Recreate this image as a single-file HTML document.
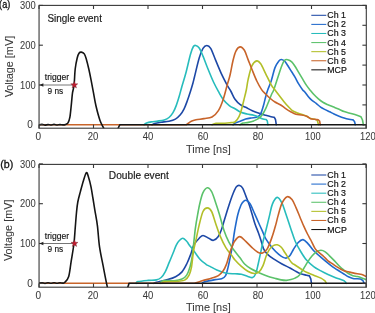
<!DOCTYPE html>
<html><head><meta charset="utf-8"><style>
html,body{margin:0;padding:0;background:#fff;}
body{width:375px;height:313px;overflow:hidden;}
svg{display:block;filter:blur(0.25px);}
text{font-family:"Liberation Sans",sans-serif;}
.tk{font-size:10.2px;fill:#3a3a3a;stroke:#3a3a3a;stroke-width:0.05px;}
.al{font-size:10.8px;fill:#3a3a3a;stroke:#3a3a3a;stroke-width:0.05px;}
.pl{font-size:11px;fill:#111;stroke:#111;stroke-width:0.3px;}
.ti{font-size:10.4px;fill:#1a1a1a;stroke:#1a1a1a;stroke-width:0.18px;}
.lg{font-size:8.8px;fill:#111;stroke:#111;stroke-width:0.18px;}
.tr{font-size:8.8px;fill:#111;stroke:#111;stroke-width:0.15px;}
</style></head><body>
<svg width="375" height="313" viewBox="0 0 375 313">
<rect width="375" height="313" fill="#fff"/>
<clipPath id="ca"><rect x="39" y="5.40" width="327" height="122.80"/></clipPath>
<g clip-path="url(#ca)" fill="none" stroke-width="1.60" stroke-linejoin="round" stroke-linecap="round">
<path stroke="#1d48a6" d="M152.00,124.80 C152.43,124.58 153.10,123.92 154.60,123.50 C156.10,123.08 158.60,122.68 161.00,122.30 C163.40,121.92 166.60,121.73 169.00,121.20 C171.40,120.67 173.55,120.12 175.40,119.10 C177.25,118.08 178.65,116.82 180.10,115.10 C181.55,113.38 182.90,111.18 184.10,108.80 C185.30,106.42 186.23,103.73 187.30,100.80 C188.37,97.87 189.57,94.13 190.50,91.20 C191.43,88.27 192.25,85.53 192.90,83.20 C193.55,80.87 193.35,81.40 194.40,77.20 C195.45,73.00 197.77,62.80 199.20,58.00 C200.63,53.20 201.73,50.48 203.00,48.40 C204.27,46.32 205.52,45.50 206.80,45.50 C208.08,45.50 209.25,46.00 210.70,48.40 C212.15,50.80 213.75,55.75 215.50,59.90 C217.25,64.05 219.28,69.15 221.20,73.30 C223.12,77.45 225.37,81.77 227.00,84.80 C228.63,87.83 229.67,89.08 231.00,91.50 C232.33,93.92 233.45,97.10 235.00,99.30 C236.55,101.50 238.52,103.37 240.30,104.70 C242.08,106.03 243.70,106.30 245.70,107.30 C247.70,108.30 250.08,109.70 252.30,110.70 C254.52,111.70 256.77,112.53 259.00,113.30 C261.23,114.07 263.70,114.73 265.70,115.30 C267.70,115.87 269.57,116.37 271.00,116.70 C272.43,117.03 273.75,117.20 274.30,117.30 L274.30,117.30 L275.50,119.50 L276.30,124.80"/>
<path stroke="#2069cc" d="M233.00,124.80 C233.45,124.45 234.48,123.28 235.70,122.70 C236.92,122.12 238.63,121.90 240.30,121.30 C241.97,120.70 243.92,119.65 245.70,119.10 C247.48,118.55 249.23,118.30 251.00,118.00 C252.77,117.70 254.85,117.75 256.30,117.30 C257.75,116.85 258.80,116.30 259.70,115.30 C260.60,114.30 261.03,113.07 261.70,111.30 C262.37,109.53 263.03,107.13 263.70,104.70 C264.37,102.27 265.03,99.15 265.70,96.70 C266.37,94.25 266.78,92.62 267.70,90.00 C268.62,87.38 269.98,84.73 271.20,81.00 C272.42,77.27 273.72,70.95 275.00,67.60 C276.28,64.25 277.83,62.25 278.90,60.90 C279.97,59.55 280.38,59.40 281.40,59.50 C282.42,59.60 283.77,60.20 285.00,61.50 C286.23,62.80 287.67,65.55 288.80,67.30 C289.93,69.05 290.77,70.37 291.80,72.00 C292.83,73.63 293.83,75.07 295.00,77.10 C296.17,79.13 297.52,82.07 298.80,84.20 C300.08,86.33 301.67,88.57 302.70,89.90 C303.73,91.23 304.05,91.07 305.00,92.20 C305.95,93.33 307.28,95.38 308.40,96.70 C309.52,98.02 310.40,98.98 311.70,100.10 C313.00,101.22 314.72,102.23 316.20,103.40 C317.68,104.57 319.12,106.07 320.60,107.10 C322.08,108.13 323.60,108.82 325.10,109.60 C326.60,110.38 328.12,111.07 329.60,111.80 C331.08,112.53 332.52,113.32 334.00,114.00 C335.48,114.68 336.82,115.25 338.50,115.90 C340.18,116.55 342.35,117.35 344.10,117.90 C345.85,118.45 347.52,118.87 349.00,119.20 C350.48,119.53 352.33,119.78 353.00,119.90 L353.00,119.90 L354.50,121.50 L355.30,124.80"/>
<path stroke="#27bcbc" d="M144.00,124.80 C144.43,124.52 145.37,123.58 146.60,123.10 C147.83,122.62 149.53,122.23 151.40,121.90 C153.27,121.57 155.67,121.43 157.80,121.10 C159.93,120.77 162.33,120.50 164.20,119.90 C166.07,119.30 167.53,118.70 169.00,117.50 C170.47,116.30 171.80,114.68 173.00,112.70 C174.20,110.72 175.15,108.38 176.20,105.60 C177.25,102.82 178.38,99.07 179.30,96.00 C180.22,92.93 180.62,90.98 181.70,87.20 C182.78,83.42 184.33,78.80 185.80,73.30 C187.27,67.80 189.23,58.67 190.50,54.20 C191.77,49.73 192.53,47.95 193.40,46.50 C194.27,45.05 194.73,45.25 195.70,45.50 C196.67,45.75 197.98,46.23 199.20,48.00 C200.42,49.77 201.57,52.68 203.00,56.10 C204.43,59.52 206.05,64.18 207.80,68.50 C209.55,72.82 211.73,78.18 213.50,82.00 C215.27,85.82 216.78,88.50 218.40,91.40 C220.02,94.30 221.33,97.00 223.20,99.40 C225.07,101.80 227.63,104.25 229.60,105.80 C231.57,107.35 233.22,107.67 235.00,108.70 C236.78,109.73 238.30,111.12 240.30,112.00 C242.30,112.88 244.77,113.45 247.00,114.00 C249.23,114.55 251.70,114.75 253.70,115.30 C255.70,115.85 257.45,116.67 259.00,117.30 C260.55,117.93 261.78,118.72 263.00,119.10 C264.22,119.48 265.75,119.52 266.30,119.60 L266.30,119.60 L267.30,121.00 L267.90,124.80"/>
<path stroke="#5bc26a" d="M240.00,124.80 C240.50,124.52 241.62,123.50 243.00,123.10 C244.38,122.70 246.52,122.77 248.30,122.40 C250.08,122.03 252.03,121.52 253.70,120.90 C255.37,120.28 256.87,119.73 258.30,118.70 C259.73,117.67 261.07,116.37 262.30,114.70 C263.53,113.03 264.58,111.03 265.70,108.70 C266.82,106.37 268.00,103.15 269.00,100.70 C270.00,98.25 270.92,95.78 271.70,94.00 C272.48,92.22 272.67,92.80 273.70,90.00 C274.73,87.20 276.55,81.25 277.90,77.20 C279.25,73.15 280.68,68.52 281.80,65.70 C282.92,62.88 283.60,61.30 284.60,60.30 C285.60,59.30 286.62,59.45 287.80,59.70 C288.98,59.95 290.50,60.70 291.70,61.80 C292.90,62.90 293.82,64.48 295.00,66.30 C296.18,68.12 297.52,70.57 298.80,72.70 C300.08,74.83 301.42,76.98 302.70,79.10 C303.98,81.22 305.20,83.50 306.50,85.40 C307.80,87.30 309.27,88.98 310.50,90.50 C311.73,92.02 312.58,93.10 313.90,94.50 C315.22,95.90 316.90,97.60 318.40,98.90 C319.90,100.20 321.42,101.37 322.90,102.30 C324.38,103.23 325.63,103.75 327.30,104.50 C328.97,105.25 331.03,106.05 332.90,106.80 C334.77,107.55 336.63,108.20 338.50,109.00 C340.37,109.80 342.35,110.93 344.10,111.60 C345.85,112.27 347.52,112.62 349.00,113.00 C350.48,113.38 351.67,113.53 353.00,113.90 C354.33,114.27 355.67,114.72 357.00,115.20 C358.33,115.68 360.33,116.53 361.00,116.80 L361.00,116.80 L362.50,120.00 L363.40,124.80"/>
<path stroke="#b2bf28" d="M212.00,124.80 C212.67,124.57 213.83,123.67 216.00,123.40 C218.17,123.13 222.50,123.33 225.00,123.20 C227.50,123.07 229.33,122.80 231.00,122.60 C232.67,122.40 233.67,122.98 235.00,122.00 C236.33,121.02 237.88,118.92 239.00,116.70 C240.12,114.48 240.92,111.37 241.70,108.70 C242.48,106.03 242.93,103.82 243.70,100.70 C244.47,97.58 245.55,93.60 246.30,90.00 C247.05,86.40 247.25,83.15 248.20,79.10 C249.15,75.05 250.57,68.73 252.00,65.70 C253.43,62.67 255.35,61.22 256.80,60.90 C258.25,60.58 259.25,61.73 260.70,63.80 C262.15,65.87 263.75,69.80 265.50,73.30 C267.25,76.80 269.62,82.02 271.20,84.80 C272.78,87.58 273.70,88.25 275.00,90.00 C276.30,91.75 277.50,93.35 279.00,95.30 C280.50,97.25 282.50,99.87 284.00,101.70 C285.50,103.53 286.67,104.87 288.00,106.30 C289.33,107.73 290.45,109.18 292.00,110.30 C293.55,111.42 295.75,112.33 297.30,113.00 C298.85,113.67 299.73,113.75 301.30,114.30 C302.87,114.85 305.13,115.60 306.70,116.30 C308.27,117.00 309.37,118.00 310.70,118.50 C312.03,119.00 313.60,119.00 314.70,119.30 C315.80,119.60 316.87,120.13 317.30,120.30 L317.30,120.30 L318.50,124.80"/>
<path stroke="#c8642a" d="M39.00,124.80 L186.40,124.80 L186.40,124.80 C186.68,124.58 187.28,124.10 188.10,123.50 C188.92,122.90 189.98,121.82 191.30,121.20 C192.62,120.58 193.88,120.23 196.00,119.80 C198.12,119.37 201.33,119.07 204.00,118.60 C206.67,118.13 209.60,118.33 212.00,117.00 C214.40,115.67 216.53,113.53 218.40,110.60 C220.27,107.67 221.73,103.67 223.20,99.40 C224.67,95.13 226.07,89.02 227.20,85.00 C228.33,80.98 229.05,79.30 230.00,75.30 C230.95,71.30 231.93,65.00 232.90,61.00 C233.87,57.00 234.62,53.65 235.80,51.30 C236.98,48.95 238.57,47.07 240.00,46.90 C241.43,46.73 243.03,48.13 244.40,50.30 C245.77,52.47 246.93,56.70 248.20,59.90 C249.47,63.10 250.57,65.98 252.00,69.50 C253.43,73.02 255.20,77.65 256.80,81.00 C258.40,84.35 260.12,87.43 261.60,89.60 C263.08,91.77 264.35,92.60 265.70,94.00 C267.05,95.40 268.15,96.67 269.70,98.00 C271.25,99.33 273.23,100.88 275.00,102.00 C276.77,103.12 278.58,103.65 280.30,104.70 C282.02,105.75 283.57,107.13 285.30,108.30 C287.03,109.47 288.92,110.70 290.70,111.70 C292.48,112.70 294.23,113.75 296.00,114.30 C297.77,114.85 299.52,114.67 301.30,115.00 C303.08,115.33 305.13,115.68 306.70,116.30 C308.27,116.92 309.37,118.20 310.70,118.70 C312.03,119.20 313.48,119.13 314.70,119.30 C315.92,119.47 317.45,119.63 318.00,119.70 L318.00,119.70 L319.60,121.00 L320.30,124.80"/>
<path stroke="#151515" d="M39.00,124.90 C39.50,124.82 41.00,124.37 42.00,124.40 C43.00,124.43 44.00,125.07 45.00,125.10 C46.00,125.13 47.00,124.62 48.00,124.60 C49.00,124.58 50.00,125.03 51.00,125.00 C52.00,124.97 53.00,124.40 54.00,124.40 C55.00,124.40 56.00,124.97 57.00,125.00 C58.00,125.03 59.00,124.62 60.00,124.60 C61.00,124.58 62.07,124.93 63.00,124.90 C63.93,124.87 64.77,124.75 65.60,124.40 C66.43,124.05 67.28,124.00 68.00,122.80 C68.72,121.60 69.32,120.53 69.90,117.20 C70.48,113.87 71.07,106.85 71.50,102.80 C71.93,98.75 72.07,95.88 72.50,92.90 C72.93,89.92 73.65,88.88 74.10,84.90 C74.55,80.92 74.68,73.48 75.20,69.00 C75.72,64.52 76.57,60.63 77.20,58.00 C77.83,55.37 78.32,54.18 79.00,53.20 C79.68,52.22 80.42,51.98 81.30,52.10 C82.18,52.22 83.45,52.68 84.30,53.90 C85.15,55.12 85.65,56.88 86.40,59.40 C87.15,61.92 88.02,65.55 88.80,69.00 C89.58,72.45 90.32,76.12 91.10,80.10 C91.88,84.08 92.68,88.58 93.50,92.90 C94.32,97.22 94.92,101.42 96.00,106.00 C97.08,110.58 98.67,116.60 100.00,120.40 C101.33,124.20 102.83,126.20 104.00,128.80 C105.17,131.40 105.67,134.13 107.00,136.00 C108.33,137.87 110.45,140.17 112.00,140.00 C113.55,139.83 115.25,137.00 116.30,135.00 C117.35,133.00 117.72,129.70 118.30,128.00 C118.88,126.30 119.55,125.33 119.80,124.80 L119.80,124.80 L366.00,124.80"/>
</g>
<clipPath id="cb"><rect x="39" y="164.40" width="327" height="122.80"/></clipPath>
<g clip-path="url(#cb)" fill="none" stroke-width="1.60" stroke-linejoin="round" stroke-linecap="round">
<path stroke="#1d48a6" d="M154.00,283.30 C154.40,283.13 154.13,282.92 156.40,282.30 C158.67,281.68 164.40,280.53 167.60,279.60 C170.80,278.67 173.20,277.98 175.60,276.70 C178.00,275.42 180.15,274.02 182.00,271.90 C183.85,269.78 185.25,266.92 186.70,264.00 C188.15,261.08 189.50,257.60 190.70,254.40 C191.90,251.20 192.48,247.48 193.90,244.80 C195.32,242.12 197.68,239.85 199.20,238.30 C200.72,236.75 201.40,235.50 203.00,235.50 C204.60,235.50 207.05,237.50 208.80,238.30 C210.55,239.10 211.92,240.62 213.50,240.30 C215.08,239.98 216.97,238.20 218.30,236.40 C219.63,234.60 220.35,232.70 221.50,229.50 C222.65,226.30 223.92,221.38 225.20,217.20 C226.48,213.02 227.87,208.40 229.20,204.40 C230.53,200.40 232.00,196.13 233.20,193.20 C234.40,190.27 235.33,188.08 236.40,186.80 C237.47,185.52 238.53,185.23 239.60,185.50 C240.67,185.77 241.73,186.58 242.80,188.40 C243.87,190.22 244.92,193.63 246.00,196.40 C247.08,199.17 248.27,201.97 249.30,205.00 C250.33,208.03 251.23,211.40 252.20,214.60 C253.17,217.80 254.07,221.17 255.10,224.20 C256.13,227.23 257.42,230.08 258.40,232.80 C259.38,235.52 260.13,237.83 261.00,240.50 C261.87,243.17 262.50,246.48 263.60,248.80 C264.70,251.12 265.87,252.67 267.60,254.40 C269.33,256.13 271.60,257.60 274.00,259.20 C276.40,260.80 279.33,262.53 282.00,264.00 C284.67,265.47 287.83,266.85 290.00,268.00 C292.17,269.15 293.22,269.93 295.00,270.90 C296.78,271.87 298.78,273.08 300.70,273.80 C302.62,274.52 305.05,274.85 306.50,275.20 C307.95,275.55 308.92,275.78 309.40,275.90 L309.40,275.90 L310.80,278.80 L311.50,283.30"/>
<path stroke="#2069cc" d="M202.00,283.30 C202.33,283.08 201.80,282.62 204.00,282.00 C206.20,281.38 212.27,280.13 215.20,279.60 C218.13,279.07 219.87,279.47 221.60,278.80 C223.33,278.13 224.53,277.47 225.60,275.60 C226.67,273.73 227.20,270.80 228.00,267.60 C228.80,264.40 229.65,260.17 230.40,256.40 C231.15,252.63 231.80,249.23 232.50,245.00 C233.20,240.77 233.73,236.00 234.60,231.00 C235.47,226.00 236.63,219.33 237.70,215.00 C238.77,210.67 240.02,207.28 241.00,205.00 C241.98,202.72 242.68,202.07 243.60,201.30 C244.52,200.53 245.43,200.02 246.50,200.40 C247.57,200.78 248.65,201.40 250.00,203.60 C251.35,205.80 253.20,210.48 254.60,213.60 C256.00,216.72 257.12,219.42 258.40,222.30 C259.68,225.18 261.03,228.08 262.30,230.90 C263.57,233.72 264.32,236.35 266.00,239.20 C267.68,242.05 270.27,245.47 272.40,248.00 C274.53,250.53 277.00,252.83 278.80,254.40 C280.60,255.97 281.92,256.80 283.20,257.40 C284.48,258.00 285.37,258.32 286.50,258.00 C287.63,257.68 288.85,256.92 290.00,255.50 C291.15,254.08 292.03,251.67 293.40,249.50 C294.77,247.33 296.60,244.15 298.20,242.50 C299.80,240.85 301.38,239.42 303.00,239.60 C304.62,239.78 306.12,241.73 307.90,243.60 C309.68,245.47 311.78,248.77 313.70,250.80 C315.62,252.83 317.48,254.13 319.40,255.80 C321.32,257.47 323.03,259.00 325.20,260.80 C327.37,262.60 330.77,265.33 332.40,266.60 C334.03,267.87 333.82,267.63 335.00,268.40 C336.18,269.17 338.02,270.27 339.50,271.20 C340.98,272.13 342.42,273.07 343.90,274.00 C345.38,274.93 346.90,276.05 348.40,276.80 C349.90,277.55 351.40,278.18 352.90,278.50 C354.40,278.82 356.10,278.62 357.40,278.70 C358.70,278.78 360.15,278.95 360.70,279.00 L360.70,279.00 L363.00,280.70 L364.10,283.30"/>
<path stroke="#27bcbc" d="M136.00,283.30 C136.30,283.02 135.82,282.08 137.80,281.60 C139.78,281.12 144.80,280.68 147.90,280.40 C151.00,280.12 154.18,280.38 156.40,279.90 C158.62,279.42 159.73,278.83 161.20,277.50 C162.67,276.17 163.87,274.42 165.20,271.90 C166.53,269.38 167.87,265.58 169.20,262.40 C170.53,259.22 172.00,255.73 173.20,252.80 C174.40,249.87 175.33,246.88 176.40,244.80 C177.47,242.72 178.52,241.38 179.60,240.30 C180.68,239.22 181.72,238.15 182.90,238.30 C184.08,238.45 185.73,240.22 186.70,241.20 C187.67,242.18 187.40,242.43 188.70,244.20 C190.00,245.97 192.58,249.25 194.50,251.80 C196.42,254.35 198.28,257.42 200.20,259.50 C202.12,261.58 204.37,263.15 206.00,264.30 C207.63,265.45 208.20,265.45 210.00,266.40 C211.80,267.35 214.07,268.87 216.80,270.00 C219.53,271.13 223.37,272.57 226.40,273.20 C229.43,273.83 232.50,273.62 235.00,273.80 C237.50,273.98 239.27,273.87 241.40,274.30 C243.53,274.73 245.93,275.87 247.80,276.40 C249.67,276.93 251.27,277.98 252.60,277.50 C253.93,277.02 254.87,275.75 255.80,273.50 C256.73,271.25 257.40,267.45 258.20,264.00 C259.00,260.55 259.80,256.53 260.60,252.80 C261.40,249.07 262.10,245.40 263.00,241.60 C263.90,237.80 264.92,234.33 266.00,230.00 C267.08,225.67 268.43,219.92 269.50,215.60 C270.57,211.28 271.12,207.13 272.40,204.10 C273.68,201.07 275.60,197.57 277.20,197.40 C278.80,197.23 280.57,200.38 282.00,203.10 C283.43,205.82 284.27,209.23 285.80,213.70 C287.33,218.17 289.62,225.27 291.20,229.90 C292.78,234.53 293.72,237.90 295.30,241.50 C296.88,245.10 298.83,248.40 300.70,251.50 C302.57,254.60 304.33,257.58 306.50,260.10 C308.67,262.62 311.30,264.80 313.70,266.60 C316.10,268.40 318.52,269.58 320.90,270.90 C323.28,272.22 325.65,273.42 328.00,274.50 C330.35,275.58 333.08,276.65 335.00,277.40 C336.92,278.15 338.02,278.45 339.50,279.00 C340.98,279.55 343.17,280.42 343.90,280.70 L343.90,280.70 L345.50,282.00 L346.20,283.30"/>
<path stroke="#5bc26a" d="M160.00,283.30 C160.47,282.87 160.47,281.13 162.80,280.70 C165.13,280.27 170.80,280.97 174.00,280.70 C177.20,280.43 179.88,280.03 182.00,279.10 C184.12,278.17 185.38,277.08 186.70,275.10 C188.02,273.12 188.97,270.38 189.90,267.20 C190.83,264.02 191.40,262.40 192.30,256.00 C193.20,249.60 194.32,236.22 195.30,228.80 C196.28,221.38 197.40,215.93 198.20,211.50 C199.00,207.07 199.30,205.35 200.10,202.20 C200.90,199.05 201.78,195.00 203.00,192.60 C204.22,190.20 205.97,187.97 207.40,187.80 C208.83,187.63 210.25,189.20 211.60,191.60 C212.95,194.00 214.22,198.47 215.50,202.20 C216.78,205.93 217.87,209.25 219.30,214.00 C220.73,218.75 222.50,226.00 224.10,230.70 C225.70,235.40 227.30,239.02 228.90,242.20 C230.50,245.38 231.88,247.23 233.70,249.80 C235.52,252.37 237.98,255.23 239.80,257.60 C241.62,259.97 242.73,262.13 244.60,264.00 C246.47,265.87 248.60,267.35 251.00,268.80 C253.40,270.25 256.33,271.52 259.00,272.70 C261.67,273.88 264.35,274.97 267.00,275.90 C269.65,276.83 272.57,277.63 274.90,278.30 C277.23,278.97 279.07,279.55 281.00,279.90 C282.93,280.25 284.83,280.45 286.50,280.40 C288.17,280.35 289.58,279.98 291.00,279.60 C292.42,279.22 293.62,278.83 295.00,278.10 C296.38,277.37 297.87,276.77 299.30,275.20 C300.73,273.63 302.17,270.97 303.60,268.70 C305.03,266.43 306.47,263.75 307.90,261.60 C309.33,259.45 310.75,257.43 312.20,255.80 C313.65,254.17 315.15,252.72 316.60,251.80 C318.05,250.88 319.47,250.30 320.90,250.30 C322.33,250.30 323.77,250.88 325.20,251.80 C326.63,252.72 328.07,254.42 329.50,255.80 C330.93,257.18 332.13,258.37 333.80,260.10 C335.47,261.83 337.82,264.53 339.50,266.20 C341.18,267.87 342.42,268.88 343.90,270.10 C345.38,271.32 346.90,272.57 348.40,273.50 C349.90,274.43 351.40,275.20 352.90,275.70 C354.40,276.20 355.92,276.13 357.40,276.50 C358.88,276.87 360.37,277.37 361.80,277.90 C363.23,278.43 365.30,279.40 366.00,279.70"/>
<path stroke="#b2bf28" d="M162.00,283.30 C162.40,283.07 161.60,282.25 164.40,281.90 C167.20,281.55 175.35,281.53 178.80,281.20 C182.25,280.87 183.38,280.92 185.10,279.90 C186.82,278.88 188.03,277.22 189.10,275.10 C190.17,272.98 190.78,271.08 191.50,267.20 C192.22,263.32 192.60,256.62 193.40,251.80 C194.20,246.98 195.33,242.78 196.30,238.30 C197.27,233.82 198.08,229.37 199.20,224.90 C200.32,220.43 201.63,214.33 203.00,211.50 C204.37,208.67 205.97,207.90 207.40,207.90 C208.83,207.90 210.25,208.98 211.60,211.50 C212.95,214.02 214.05,218.85 215.50,223.00 C216.95,227.15 218.55,232.25 220.30,236.40 C222.05,240.55 224.08,244.70 226.00,247.90 C227.92,251.10 230.30,253.58 231.80,255.60 C233.30,257.62 233.40,258.20 235.00,260.00 C236.60,261.80 239.27,264.53 241.40,266.40 C243.53,268.27 245.67,270.02 247.80,271.20 C249.93,272.38 252.33,273.37 254.20,273.50 C256.07,273.63 257.53,273.32 259.00,272.00 C260.47,270.68 261.80,268.27 263.00,265.60 C264.20,262.93 265.15,258.67 266.20,256.00 C267.25,253.33 268.12,251.33 269.30,249.60 C270.48,247.87 271.97,246.40 273.30,245.60 C274.63,244.80 275.97,244.53 277.30,244.80 C278.63,245.07 280.02,245.87 281.30,247.20 C282.58,248.53 283.30,250.23 285.00,252.80 C286.70,255.37 289.83,260.57 291.50,262.60 C293.17,264.63 293.47,263.98 295.00,265.00 C296.53,266.02 298.78,267.48 300.70,268.70 C302.62,269.92 304.33,271.22 306.50,272.30 C308.67,273.38 311.30,274.23 313.70,275.20 C316.10,276.17 319.02,277.17 320.90,278.10 C322.78,279.03 324.32,280.35 325.00,280.80 L325.00,280.80 L326.50,283.30"/>
<path stroke="#c8642a" d="M39.00,283.30 L194.50,283.30 L194.50,283.30 C195.08,283.12 196.58,282.65 198.00,282.20 C199.42,281.75 200.67,281.30 203.00,280.60 C205.33,279.90 209.43,278.83 212.00,278.00 C214.57,277.17 216.53,276.80 218.40,275.60 C220.27,274.40 221.87,272.67 223.20,270.80 C224.53,268.93 225.47,266.80 226.40,264.40 C227.33,262.00 228.07,258.83 228.80,256.40 C229.53,253.97 229.83,252.33 230.80,249.80 C231.77,247.27 233.10,243.40 234.60,241.20 C236.10,239.00 237.93,236.57 239.80,236.60 C241.67,236.63 243.80,239.60 245.80,241.40 C247.80,243.20 249.80,245.60 251.80,247.40 C253.80,249.20 256.00,251.28 257.80,252.20 C259.60,253.12 261.00,253.50 262.60,252.90 C264.20,252.30 265.80,251.32 267.40,248.60 C269.00,245.88 270.80,240.60 272.20,236.60 C273.60,232.60 274.82,228.10 275.80,224.60 C276.78,221.10 277.07,219.18 278.10,215.60 C279.13,212.02 280.48,206.25 282.00,203.10 C283.52,199.95 285.53,197.28 287.20,196.70 C288.87,196.12 290.53,197.78 292.00,199.60 C293.47,201.42 294.67,204.67 296.00,207.60 C297.33,210.53 298.67,214.02 300.00,217.20 C301.33,220.38 302.75,223.90 304.00,226.70 C305.25,229.50 306.37,231.78 307.50,234.00 C308.63,236.22 309.53,237.57 310.80,240.00 C312.07,242.43 313.67,246.45 315.10,248.60 C316.53,250.75 317.97,251.58 319.40,252.90 C320.83,254.22 322.27,255.18 323.70,256.50 C325.13,257.82 326.55,259.60 328.00,260.80 C329.45,262.00 331.23,262.90 332.40,263.70 C333.57,264.50 333.82,264.82 335.00,265.60 C336.18,266.38 338.02,267.55 339.50,268.40 C340.98,269.25 342.42,270.13 343.90,270.70 C345.38,271.27 346.90,271.43 348.40,271.80 C349.90,272.17 351.40,272.57 352.90,272.90 C354.40,273.23 355.92,273.52 357.40,273.80 C358.88,274.08 360.37,274.18 361.80,274.60 C363.23,275.02 365.30,276.02 366.00,276.30"/>
<path stroke="#151515" d="M39.00,283.20 C39.50,283.12 41.00,282.67 42.00,282.70 C43.00,282.73 44.00,283.38 45.00,283.40 C46.00,283.42 47.00,282.82 48.00,282.80 C49.00,282.78 50.00,283.32 51.00,283.30 C52.00,283.28 53.00,282.72 54.00,282.70 C55.00,282.68 56.00,283.18 57.00,283.20 C58.00,283.22 59.00,282.82 60.00,282.80 C61.00,282.78 62.20,283.18 63.00,283.10 C63.80,283.02 63.85,283.40 64.80,282.30 C65.75,281.20 67.63,280.03 68.70,276.50 C69.77,272.97 70.33,266.52 71.20,261.10 C72.07,255.68 73.23,249.47 73.90,244.00 C74.57,238.53 74.77,233.55 75.20,228.30 C75.63,223.05 76.07,216.88 76.50,212.50 C76.93,208.12 77.15,205.48 77.80,202.00 C78.45,198.52 79.45,195.18 80.40,191.60 C81.35,188.02 82.50,183.67 83.50,180.50 C84.50,177.33 85.55,173.10 86.40,172.60 C87.25,172.10 87.85,175.22 88.60,177.50 C89.35,179.78 90.18,182.88 90.90,186.30 C91.62,189.72 92.25,194.07 92.90,198.00 C93.55,201.93 94.05,205.30 94.80,209.90 C95.55,214.50 96.62,219.48 97.40,225.60 C98.18,231.72 98.53,239.83 99.50,246.60 C100.47,253.37 101.95,259.73 103.20,266.20 C104.45,272.67 106.03,281.10 107.00,285.40 C107.97,289.70 107.50,289.57 109.00,292.00 C110.50,294.43 113.33,299.67 116.00,300.00 C118.67,300.33 123.03,296.17 125.00,294.00 C126.97,291.83 127.13,288.78 127.80,287.00 C128.47,285.22 128.80,283.92 129.00,283.30 L129.00,283.30 L366.00,283.30"/>
</g>
<g stroke="#383838" stroke-width="1.1" fill="none">
<rect x="39.05" y="5.40" width="327.25" height="122.80"/>
<line x1="39.00" y1="128.20" x2="39.00" y2="124.60"/>
<line x1="39.00" y1="5.40" x2="39.00" y2="9.00"/>
<line x1="93.50" y1="128.20" x2="93.50" y2="124.60"/>
<line x1="93.50" y1="5.40" x2="93.50" y2="9.00"/>
<line x1="148.00" y1="128.20" x2="148.00" y2="124.60"/>
<line x1="148.00" y1="5.40" x2="148.00" y2="9.00"/>
<line x1="202.50" y1="128.20" x2="202.50" y2="124.60"/>
<line x1="202.50" y1="5.40" x2="202.50" y2="9.00"/>
<line x1="257.00" y1="128.20" x2="257.00" y2="124.60"/>
<line x1="257.00" y1="5.40" x2="257.00" y2="9.00"/>
<line x1="311.50" y1="128.20" x2="311.50" y2="124.60"/>
<line x1="311.50" y1="5.40" x2="311.50" y2="9.00"/>
<line x1="366.00" y1="128.20" x2="366.00" y2="124.60"/>
<line x1="366.00" y1="5.40" x2="366.00" y2="9.00"/>
<line x1="39" y1="124.80" x2="42.9" y2="124.80"/>
<line x1="39" y1="85.00" x2="42.9" y2="85.00"/>
<line x1="39" y1="45.20" x2="42.9" y2="45.20"/>
<line x1="39" y1="5.40" x2="42.9" y2="5.40"/>
<line x1="366.3" y1="124.80" x2="362.4" y2="124.80"/>
<line x1="366.3" y1="104.90" x2="362.4" y2="104.90"/>
<line x1="366.3" y1="85.00" x2="362.4" y2="85.00"/>
<line x1="366.3" y1="65.10" x2="362.4" y2="65.10"/>
<line x1="366.3" y1="45.20" x2="362.4" y2="45.20"/>
<line x1="366.3" y1="25.30" x2="362.4" y2="25.30"/>
<line x1="366.3" y1="5.40" x2="362.4" y2="5.40"/>
</g>
<g stroke="#383838" stroke-width="1.1" fill="none">
<rect x="39.05" y="164.40" width="327.25" height="122.80"/>
<line x1="39.00" y1="287.20" x2="39.00" y2="283.60"/>
<line x1="39.00" y1="164.40" x2="39.00" y2="168.00"/>
<line x1="93.50" y1="287.20" x2="93.50" y2="283.60"/>
<line x1="93.50" y1="164.40" x2="93.50" y2="168.00"/>
<line x1="148.00" y1="287.20" x2="148.00" y2="283.60"/>
<line x1="148.00" y1="164.40" x2="148.00" y2="168.00"/>
<line x1="202.50" y1="287.20" x2="202.50" y2="283.60"/>
<line x1="202.50" y1="164.40" x2="202.50" y2="168.00"/>
<line x1="257.00" y1="287.20" x2="257.00" y2="283.60"/>
<line x1="257.00" y1="164.40" x2="257.00" y2="168.00"/>
<line x1="311.50" y1="287.20" x2="311.50" y2="283.60"/>
<line x1="311.50" y1="164.40" x2="311.50" y2="168.00"/>
<line x1="366.00" y1="287.20" x2="366.00" y2="283.60"/>
<line x1="366.00" y1="164.40" x2="366.00" y2="168.00"/>
<line x1="39" y1="283.30" x2="42.9" y2="283.30"/>
<line x1="39" y1="243.50" x2="42.9" y2="243.50"/>
<line x1="39" y1="203.70" x2="42.9" y2="203.70"/>
<line x1="39" y1="163.90" x2="42.9" y2="163.90"/>
<line x1="366.3" y1="283.30" x2="362.4" y2="283.30"/>
<line x1="366.3" y1="243.50" x2="362.4" y2="243.50"/>
<line x1="366.3" y1="203.70" x2="362.4" y2="203.70"/>
<line x1="366.3" y1="163.90" x2="362.4" y2="163.90"/>
</g>
<text x="32.90" y="128.40" class="tk" text-anchor="end" textLength="5.60" lengthAdjust="spacingAndGlyphs">0</text>
<text x="35.60" y="88.60" class="tk" text-anchor="end" textLength="15.60" lengthAdjust="spacingAndGlyphs">100</text>
<text x="35.60" y="48.80" class="tk" text-anchor="end" textLength="15.60" lengthAdjust="spacingAndGlyphs">200</text>
<text x="35.60" y="9.00" class="tk" text-anchor="end" textLength="15.60" lengthAdjust="spacingAndGlyphs">300</text>
<text x="38.20" y="140.10" class="tk" text-anchor="middle" textLength="5.60" lengthAdjust="spacingAndGlyphs">0</text>
<text x="93.14" y="140.10" class="tk" text-anchor="middle" textLength="10.60" lengthAdjust="spacingAndGlyphs">20</text>
<text x="148.08" y="140.10" class="tk" text-anchor="middle" textLength="10.60" lengthAdjust="spacingAndGlyphs">40</text>
<text x="203.03" y="140.10" class="tk" text-anchor="middle" textLength="10.60" lengthAdjust="spacingAndGlyphs">60</text>
<text x="257.97" y="140.10" class="tk" text-anchor="middle" textLength="10.60" lengthAdjust="spacingAndGlyphs">80</text>
<text x="312.91" y="140.10" class="tk" text-anchor="middle" textLength="15.60" lengthAdjust="spacingAndGlyphs">100</text>
<text x="367.85" y="140.10" class="tk" text-anchor="middle" textLength="15.60" lengthAdjust="spacingAndGlyphs">120</text>
<text x="208.40" y="152.50" class="al" text-anchor="middle" textLength="44.60" lengthAdjust="spacingAndGlyphs">Time [ns]</text>
<text transform="translate(13.40,66.60) rotate(-90)" class="al" text-anchor="middle" textLength="61.5" lengthAdjust="spacingAndGlyphs">Voltage [mV]</text>
<text x="-0.90" y="8.10" class="pl" textLength="11.20" lengthAdjust="spacingAndGlyphs">(a)</text>
<text x="47.40" y="22.40" class="ti" textLength="54.50" lengthAdjust="spacingAndGlyphs">Single event</text>
<line x1="311.3" y1="15.30" x2="326.3" y2="15.30" stroke="#1d48a6" stroke-width="1.05"/>
<text x="327.30" y="18.30" class="lg">Ch 1</text>
<line x1="311.3" y1="24.39" x2="326.3" y2="24.39" stroke="#2069cc" stroke-width="1.05"/>
<text x="327.30" y="27.39" class="lg">Ch 2</text>
<line x1="311.3" y1="33.48" x2="326.3" y2="33.48" stroke="#27bcbc" stroke-width="1.05"/>
<text x="327.30" y="36.48" class="lg">Ch 3</text>
<line x1="311.3" y1="42.57" x2="326.3" y2="42.57" stroke="#5bc26a" stroke-width="1.05"/>
<text x="327.30" y="45.57" class="lg">Ch 4</text>
<line x1="311.3" y1="51.66" x2="326.3" y2="51.66" stroke="#b2bf28" stroke-width="1.05"/>
<text x="327.30" y="54.66" class="lg">Ch 5</text>
<line x1="311.3" y1="60.75" x2="326.3" y2="60.75" stroke="#c8642a" stroke-width="1.05"/>
<text x="327.30" y="63.75" class="lg">Ch 6</text>
<line x1="311.3" y1="69.84" x2="326.3" y2="69.84" stroke="#151515" stroke-width="1.05"/>
<text x="327.30" y="72.84" class="lg">MCP</text>
<line x1="41" y1="85.00" x2="73" y2="85.00" stroke="#666" stroke-width="0.9"/>
<path d="M39.6,85.00 L43.4,83.20 L43.4,86.80 Z" fill="#222"/>
<text x="44.80" y="80.10" class="tr" textLength="24.30" lengthAdjust="spacingAndGlyphs">trigger</text>
<text x="47.50" y="93.70" class="tr" textLength="15.60" lengthAdjust="spacingAndGlyphs">9 ns</text>
<text x="32.90" y="286.90" class="tk" text-anchor="end" textLength="5.60" lengthAdjust="spacingAndGlyphs">0</text>
<text x="35.60" y="247.10" class="tk" text-anchor="end" textLength="15.60" lengthAdjust="spacingAndGlyphs">100</text>
<text x="35.60" y="207.30" class="tk" text-anchor="end" textLength="15.60" lengthAdjust="spacingAndGlyphs">200</text>
<text x="35.60" y="167.50" class="tk" text-anchor="end" textLength="15.60" lengthAdjust="spacingAndGlyphs">300</text>
<text x="38.20" y="299.10" class="tk" text-anchor="middle" textLength="5.60" lengthAdjust="spacingAndGlyphs">0</text>
<text x="93.14" y="299.10" class="tk" text-anchor="middle" textLength="10.60" lengthAdjust="spacingAndGlyphs">20</text>
<text x="148.08" y="299.10" class="tk" text-anchor="middle" textLength="10.60" lengthAdjust="spacingAndGlyphs">40</text>
<text x="203.03" y="299.10" class="tk" text-anchor="middle" textLength="10.60" lengthAdjust="spacingAndGlyphs">60</text>
<text x="257.97" y="299.10" class="tk" text-anchor="middle" textLength="10.60" lengthAdjust="spacingAndGlyphs">80</text>
<text x="312.91" y="299.10" class="tk" text-anchor="middle" textLength="15.60" lengthAdjust="spacingAndGlyphs">100</text>
<text x="367.85" y="299.10" class="tk" text-anchor="middle" textLength="15.60" lengthAdjust="spacingAndGlyphs">120</text>
<text x="208.40" y="310.80" class="al" text-anchor="middle" textLength="44.60" lengthAdjust="spacingAndGlyphs">Time [ns]</text>
<text transform="translate(11.60,230.30) rotate(-90)" class="al" text-anchor="middle" textLength="61.5" lengthAdjust="spacingAndGlyphs">Voltage [mV]</text>
<text x="0.20" y="167.70" class="pl" textLength="13.00" lengthAdjust="spacingAndGlyphs">(b)</text>
<text x="108.80" y="178.70" class="ti" textLength="60.00" lengthAdjust="spacingAndGlyphs">Double event</text>
<line x1="311.3" y1="175.00" x2="326.3" y2="175.00" stroke="#1d48a6" stroke-width="1.05"/>
<text x="327.30" y="178.00" class="lg">Ch 1</text>
<line x1="311.3" y1="184.09" x2="326.3" y2="184.09" stroke="#2069cc" stroke-width="1.05"/>
<text x="327.30" y="187.09" class="lg">Ch 2</text>
<line x1="311.3" y1="193.18" x2="326.3" y2="193.18" stroke="#27bcbc" stroke-width="1.05"/>
<text x="327.30" y="196.18" class="lg">Ch 3</text>
<line x1="311.3" y1="202.27" x2="326.3" y2="202.27" stroke="#5bc26a" stroke-width="1.05"/>
<text x="327.30" y="205.27" class="lg">Ch 4</text>
<line x1="311.3" y1="211.36" x2="326.3" y2="211.36" stroke="#b2bf28" stroke-width="1.05"/>
<text x="327.30" y="214.36" class="lg">Ch 5</text>
<line x1="311.3" y1="220.45" x2="326.3" y2="220.45" stroke="#c8642a" stroke-width="1.05"/>
<text x="327.30" y="223.45" class="lg">Ch 6</text>
<line x1="311.3" y1="229.54" x2="326.3" y2="229.54" stroke="#151515" stroke-width="1.05"/>
<text x="327.30" y="232.54" class="lg">MCP</text>
<line x1="41" y1="243.50" x2="73" y2="243.50" stroke="#666" stroke-width="0.9"/>
<path d="M39.6,243.50 L43.4,241.70 L43.4,245.30 Z" fill="#222"/>
<text x="44.80" y="238.60" class="tr" textLength="24.30" lengthAdjust="spacingAndGlyphs">trigger</text>
<text x="47.50" y="252.20" class="tr" textLength="15.60" lengthAdjust="spacingAndGlyphs">9 ns</text>
<polygon points="74.30,81.30 75.24,83.71 77.82,83.86 75.82,85.49 76.47,87.99 74.30,86.60 72.13,87.99 72.78,85.49 70.78,83.86 73.36,83.71" fill="#c01c30" stroke="#6a2028" stroke-width="0.35"/>
<polygon points="74.50,239.80 75.44,242.21 78.02,242.36 76.02,243.99 76.67,246.49 74.50,245.10 72.33,246.49 72.98,243.99 70.98,242.36 73.56,242.21" fill="#c01c30" stroke="#6a2028" stroke-width="0.35"/>
</svg>
</body></html>
